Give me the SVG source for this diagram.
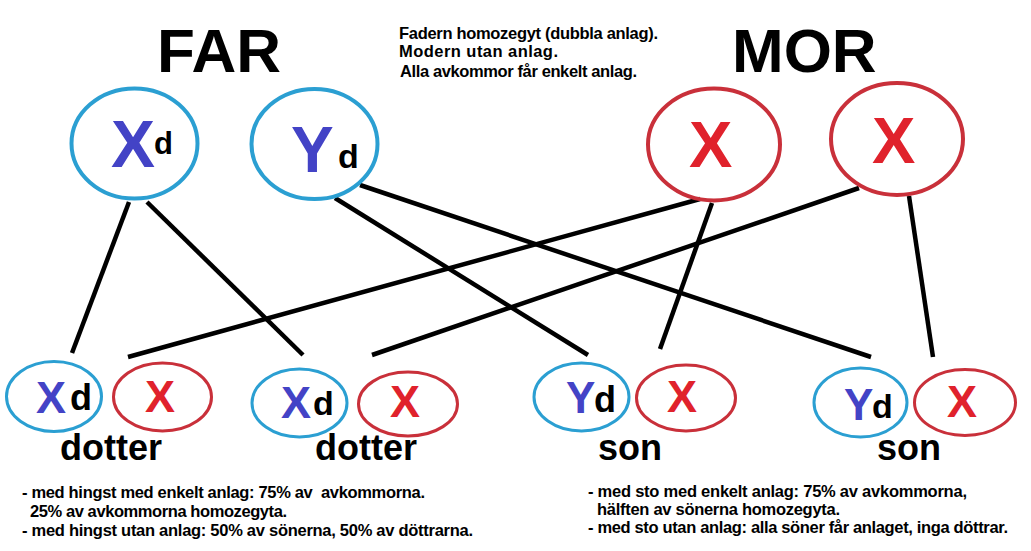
<svg xmlns="http://www.w3.org/2000/svg" width="1031" height="551" viewBox="0 0 1031 551">
<style>
  text { font-family: "Liberation Sans", Arial, sans-serif; font-weight: bold; }
  .blueE { fill: none; stroke: #2b9fd2; stroke-width: 4; }
  .redE { fill: none; stroke: #c9303a; stroke-width: 4; }
  .blueS { fill: none; stroke: #2b9fd2; stroke-width: 3; }
  .redS { fill: none; stroke: #c9303a; stroke-width: 3; }
  .bl { fill: #4343c6; }
  .rd { fill: #e0222c; }
  .blk { fill: #000; }
  .title { font-size: 62px; fill: #000; }
  .note { font-size: 16.5px; fill: #000; }
  .kid { font-size: 36px; fill: #000; }
  .conn line { stroke: #000; stroke-width: 4.5; stroke-linecap: butt; }
</style>
<rect width="1031" height="551" fill="#fff"/>

<g id="titles">
  <text class="title" x="157" y="72">FAR</text>
  <text class="title" x="732" y="72">MOR</text>
</g>

<g id="note-top">
  <text class="note" x="399" y="39" textLength="259">Fadern homozegyt (dubbla anlag).</text>
  <text class="note" x="399" y="57" textLength="159">Modern utan anlag.</text>
  <text class="note" x="400" y="77" textLength="237">Alla avkommor får enkelt anlag.</text>
</g>

<g id="connectors" class="conn">
  <line x1="129" y1="202" x2="72" y2="353"/>
  <line x1="147" y1="202" x2="303" y2="355"/>
  <line x1="335" y1="198" x2="588" y2="355"/>
  <line x1="360" y1="185" x2="871" y2="357"/>
  <line x1="700" y1="199" x2="128" y2="357"/>
  <line x1="712" y1="203" x2="660" y2="349"/>
  <line x1="859" y1="188" x2="372" y2="355"/>
  <line x1="909" y1="196" x2="933" y2="357"/>
</g>

<g id="far-xd">
  <ellipse class="blueE" cx="134.5" cy="143.5" rx="63" ry="55"/>
  <text class="bl" x="111" y="167" font-size="66">X</text>
  <text class="blk" x="154" y="154" font-size="31">d</text>
</g>
<g id="far-yd">
  <ellipse class="blueE" cx="314.5" cy="144" rx="63" ry="55"/>
  <text class="bl" x="291" y="172" font-size="64">Y</text>
  <text class="blk" x="338" y="168" font-size="34">d</text>
</g>
<g id="mor-x1">
  <ellipse class="redE" cx="714" cy="144.5" rx="66" ry="56"/>
  <text class="rd" x="689" y="167" font-size="65">X</text>
</g>
<g id="mor-x2">
  <ellipse class="redE" cx="897" cy="139" rx="66" ry="56"/>
  <text class="rd" x="872" y="163" font-size="65">X</text>
</g>

<g id="dotter1">
  <ellipse class="blueS" cx="54" cy="396.5" rx="47.5" ry="35"/>
  <text class="bl" x="36" y="413" font-size="45">X</text>
  <text class="blk" x="70" y="410" font-size="36">d</text>
  <ellipse class="redS" cx="162.5" cy="397" rx="49" ry="34"/>
  <text class="rd" x="145" y="412" font-size="45">X</text>
  <text class="kid" x="60" y="460">dotter</text>
</g>
<g id="dotter2">
  <ellipse class="blueS" cx="299.5" cy="403" rx="47.5" ry="34"/>
  <text class="bl" x="281" y="418" font-size="45">X</text>
  <text class="blk" x="313" y="415" font-size="34">d</text>
  <ellipse class="redS" cx="408" cy="404" rx="49.5" ry="32"/>
  <text class="rd" x="390" y="417" font-size="45">X</text>
  <text class="kid" x="315" y="460">dotter</text>
</g>
<g id="son1">
  <ellipse class="blueS" cx="581.5" cy="397" rx="47.5" ry="34"/>
  <text class="bl" x="566" y="413" font-size="44">Y</text>
  <text class="blk" x="594" y="412" font-size="36">d</text>
  <ellipse class="redS" cx="686" cy="398" rx="49.5" ry="33"/>
  <text class="rd" x="667" y="412" font-size="45">X</text>
  <text class="kid" x="598" y="460">son</text>
</g>
<g id="son2">
  <ellipse class="blueS" cx="860.5" cy="402.5" rx="46.5" ry="34.5"/>
  <text class="bl" x="844" y="420" font-size="44">Y</text>
  <text class="blk" x="872" y="418" font-size="34">d</text>
  <ellipse class="redS" cx="965" cy="402.5" rx="50.5" ry="33"/>
  <text class="rd" x="947" y="417" font-size="45">X</text>
  <text class="kid" x="877" y="460">son</text>
</g>

<g id="note-left">
  <text class="note" x="22" y="498" textLength="403" xml:space="preserve">- med hingst med enkelt anlag: 75% av  avkommorna.</text>
  <text class="note" x="30" y="517" textLength="257">25% av avkommorna homozegyta.</text>
  <text class="note" x="22" y="536" textLength="451">- med hingst utan anlag: 50% av sönerna, 50% av döttrarna.</text>
</g>
<g id="note-right">
  <text class="note" x="588" y="497" textLength="379">- med sto med enkelt anlag: 75% av avkommorna,</text>
  <text class="note" x="597" y="515" textLength="243">hälften av sönerna homozegyta.</text>
  <text class="note" x="588" y="533" textLength="420">- med sto utan anlag: alla söner får anlaget, inga döttrar.</text>
</g>
</svg>
